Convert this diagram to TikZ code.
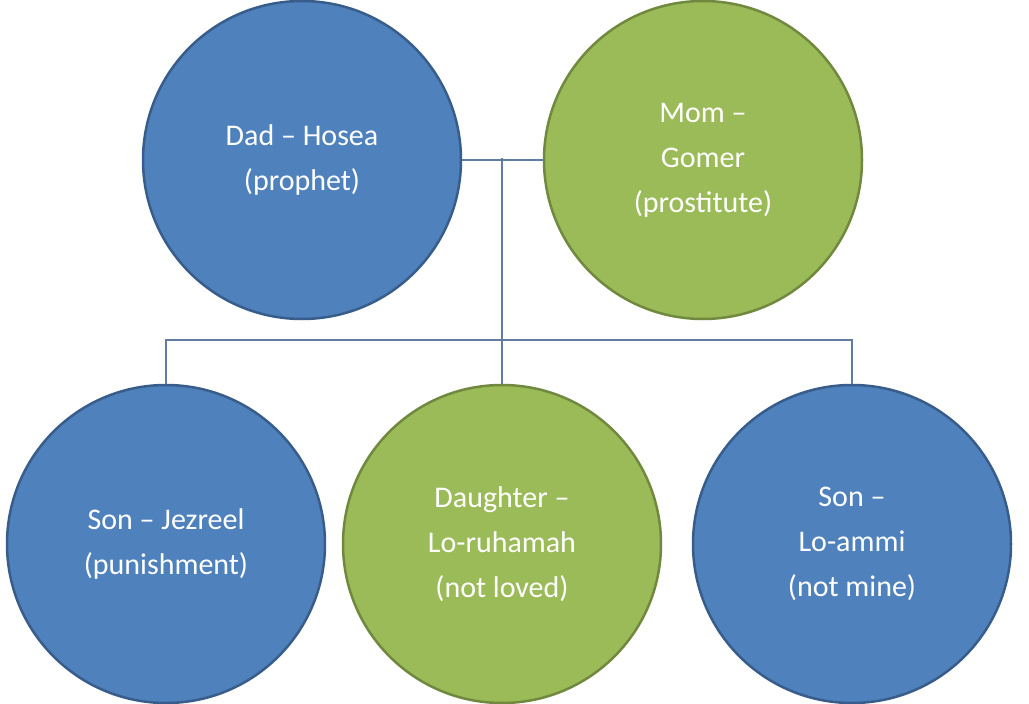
\documentclass[tikz,border=0pt]{standalone}
\usepackage{fontspec}
\setmainfont{Carlito}
\definecolor{bfill}{HTML}{4F81BD}\definecolor{bline}{HTML}{385D8A}
\definecolor{gfill}{HTML}{9BBB59}\definecolor{gline}{HTML}{71893F}
\begin{document}
\begin{tikzpicture}[x=1pt,y=-1pt,
  person/.style={circle,minimum size=318pt,inner sep=0pt,line width=2.5pt,text=white,align=center,font=\fontsize{30}{45}\selectfont},
  blue/.style={person,fill=bfill,draw=bline},
  green/.style={person,fill=gfill,draw=gline},
  link/.style={draw=bline!80!white,line width=1.3pt}]
\useasboundingbox (0,0) rectangle (1029,704);
\node[blue] (dad) at (302,160) {Dad -- Hosea\\(prophet)};
\node[green] (mom) at (703,160) {Mom --\\Gomer\\(prostitute)};
\node[blue] (s1) at (166,544) {Son -- Jezreel\\(punishment)};
\node[green] (d) at (502,544) {Daughter --\\Lo-ruhamah\\(not loved)};
\node[blue] (s2) at (852,544) {Son --\\Lo-ammi\\(not mine)};
\coordinate (j) at (502,158);
\coordinate (b) at (502,340);
\draw[link] (dad.east) -- (mom.west);
\draw[link] (j) -- (b);
\draw[link] (s1.north) |- (b) -| (s2.north);
\draw[link] (b) -- (d.north);
\end{tikzpicture}
\end{document}
